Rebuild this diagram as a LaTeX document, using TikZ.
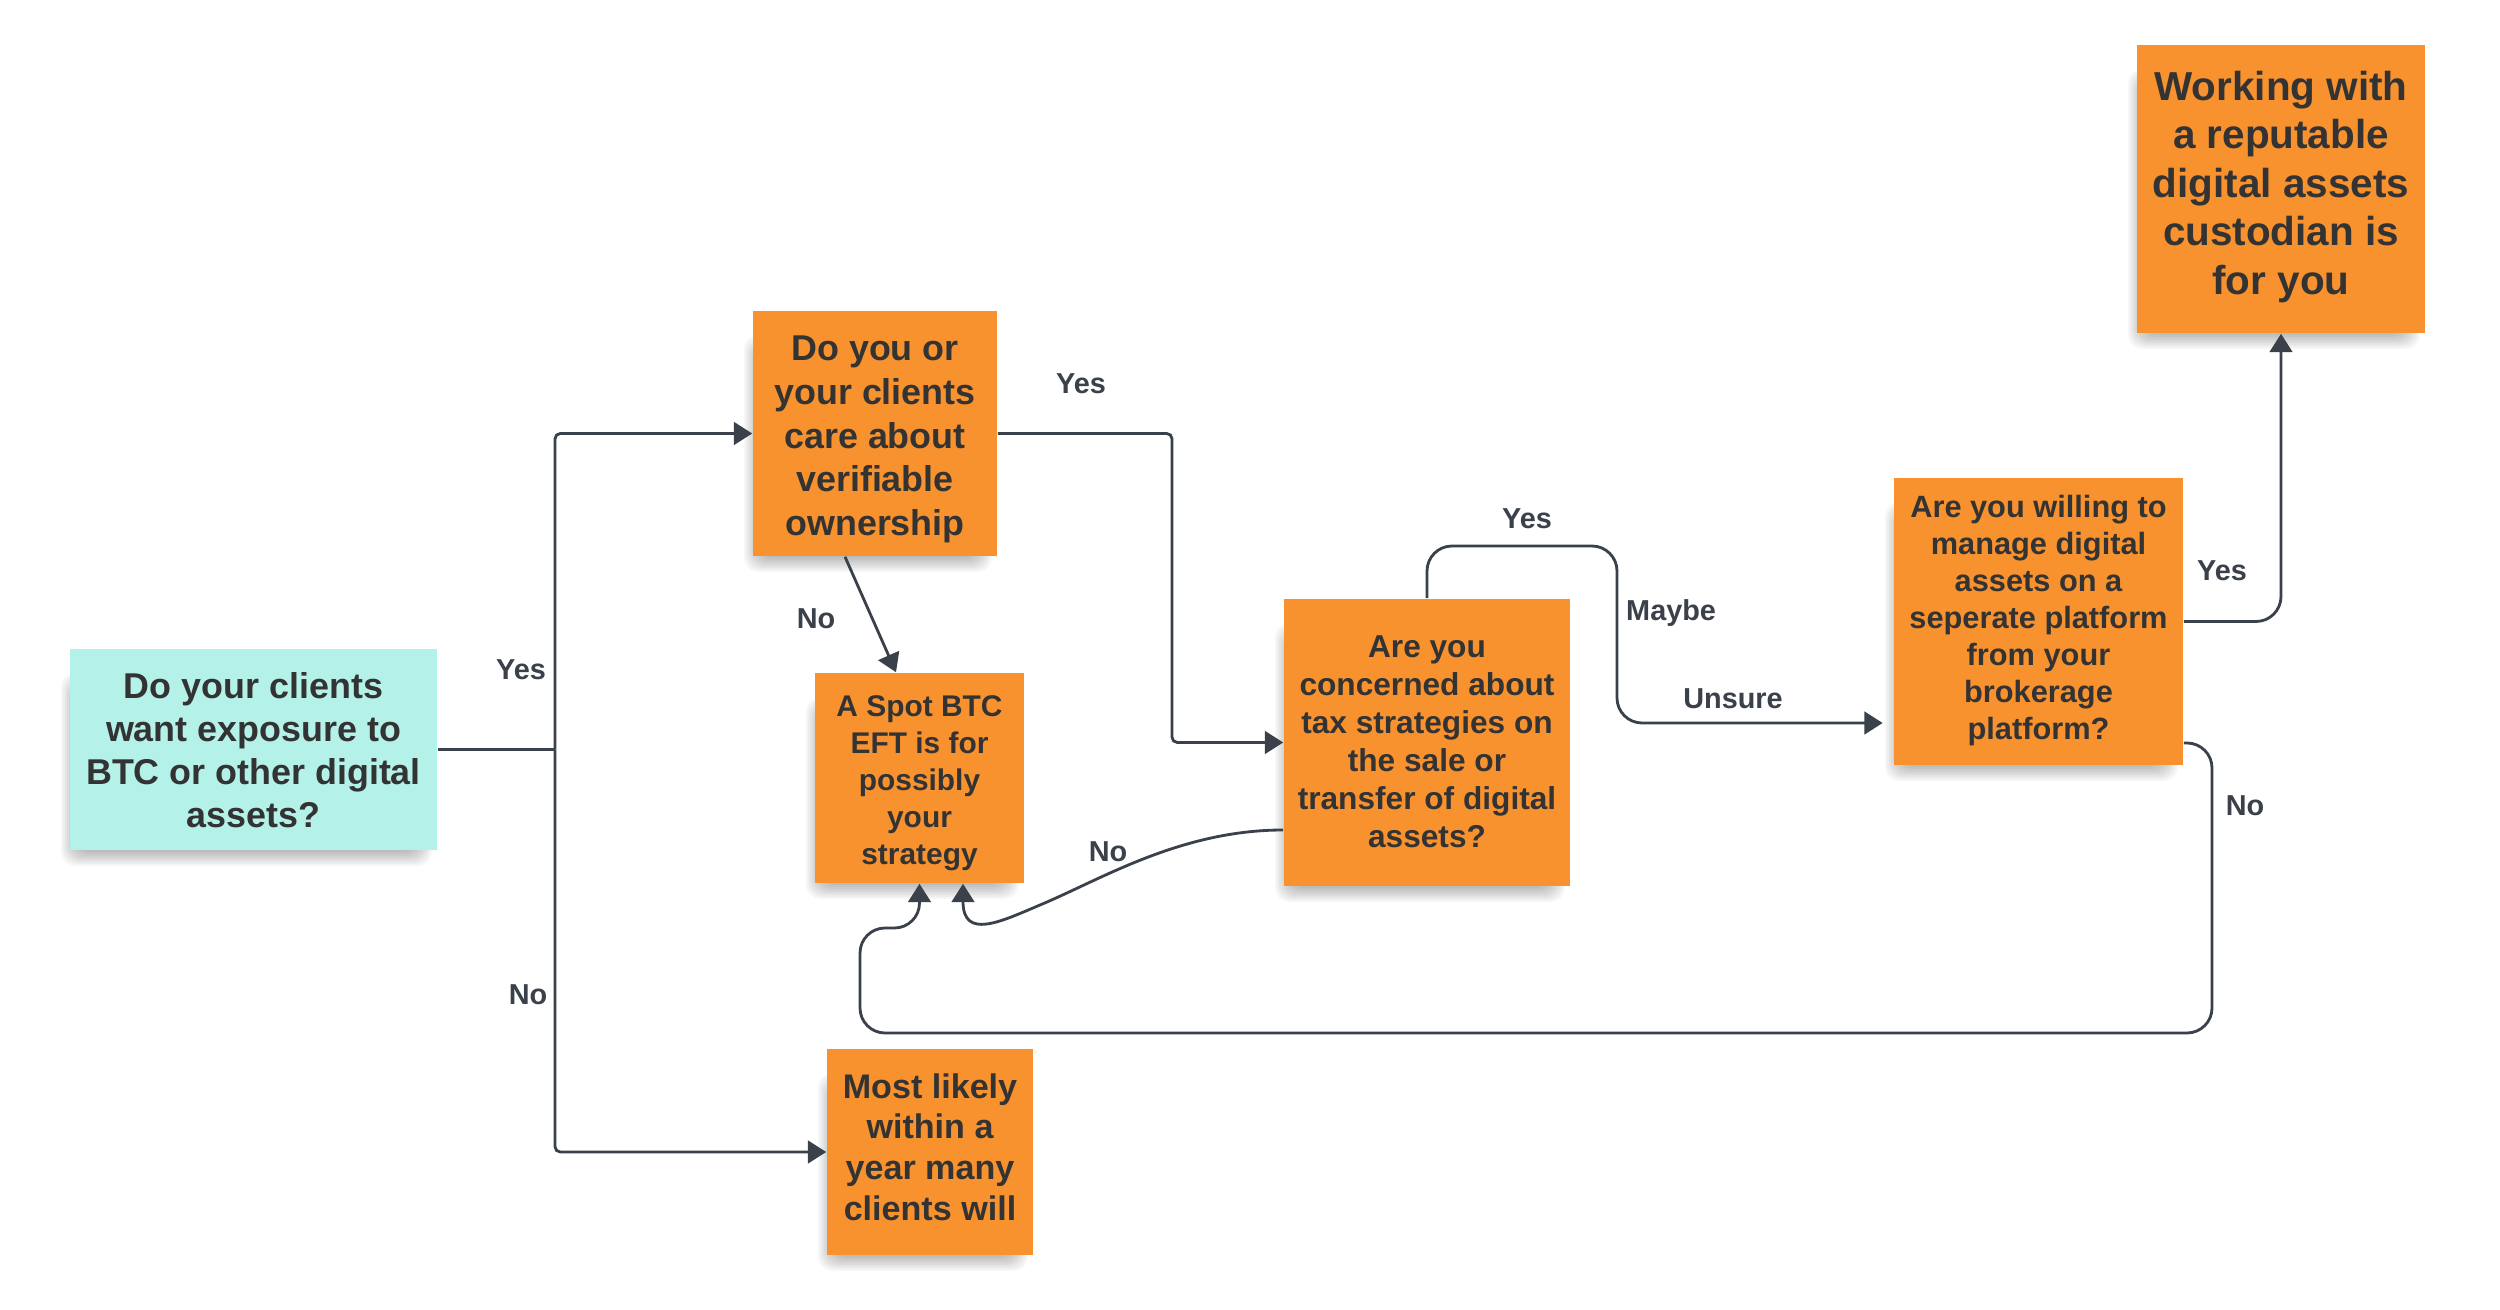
\documentclass[tikz,border=0pt]{standalone}
\usepackage{fontspec}
\setmainfont{Liberation Sans}
\usetikzlibrary{arrows.meta,calc}
\pgfdeclarelayer{back}
\pgfdeclarelayer{shad}
\pgfsetlayers{back,shad,main}
\definecolor{org}{HTML}{F8922F}
\definecolor{cyn}{HTML}{B4F2E9}
\definecolor{txt}{HTML}{333333}
\definecolor{ln}{HTML}{3A414A}
\tikzset{
  note/.style={draw=none, inner sep=0pt},
  notetext/.style={inner sep=0pt, align=center, text=txt},
  conn/.style={draw=ln, line width=0.8pt},
  arr/.style={conn, -{Triangle[length=5.2pt,width=6.4pt]}},
  lbl/.style={text=ln, font=\fontsize{8.2}{10}\selectfont\bfseries, inner sep=1pt}
}
\newcommand\noteshadow[1]{%
  \begin{pgfonlayer}{shad}
  \foreach \k in {0,...,7}{
    \fill[black, opacity=0.037, rounded corners=4pt]
      ($(#1.north west)+(-8+\k*2, 25+\k*2)$) rectangle ($(#1.south east)+(-6-\k*2, 15-\k*2)$);
  }
  \end{pgfonlayer}}
\begin{document}
\begin{tikzpicture}[x=0.01cm,y=-0.01cm]
\useasboundingbox (0,0) rectangle (2500,1310);
\begin{pgfonlayer}{back}
\fill[white] (0,0) rectangle (2500,1310);
\end{pgfonlayer}

% note shapes
\node[note, fill=cyn, minimum width=3.67cm, minimum height=2.01cm] (q1) at (253.5,749.5) {};
\node[note, fill=org, minimum width=2.44cm, minimum height=2.45cm] (q2) at (875,433.5) {};
\node[note, fill=org, minimum width=2.09cm, minimum height=2.10cm] (q3) at (919.5,778) {};
\node[note, fill=org, minimum width=2.86cm, minimum height=2.87cm] (q4) at (1427,742.5) {};
\node[note, fill=org, minimum width=2.89cm, minimum height=2.87cm] (q5) at (2038.5,621.5) {};
\node[note, fill=org, minimum width=2.88cm, minimum height=2.88cm] (q6) at (2281,189) {};
\node[note, fill=org, minimum width=2.06cm, minimum height=2.06cm] (q7) at (930,1152) {};
\noteshadow{q1}\noteshadow{q2}\noteshadow{q3}\noteshadow{q4}
\noteshadow{q5}\noteshadow{q6}\noteshadow{q7}

% note texts
\node[notetext, font=\fontsize{10.2}{12.2}\selectfont\bfseries] (q1t) at ($(q1.center)+(0,1)$)
  {Do your clients\\want exposure to\\BTC or other digital\\assets?};
\node[notetext, font=\fontsize{10.2}{12.4}\selectfont\bfseries] (q2t) at ($(q2.center)+(0,6)$)
  {Do you or\\your clients\\care about\\verifiable\\ownership};
\node[notetext, font=\fontsize{8.5}{10.5}\selectfont\bfseries] (q3t) at ($(q3.center)+(0,5)$)
  {A Spot BTC\\EFT is for\\possibly\\your\\strategy};
\node[notetext, font=\fontsize{9}{10.8}\selectfont\bfseries] (q4t) at ($(q4.center)+(0,-1)$)
  {Are you\\concerned about\\tax strategies on\\the sale or\\transfer of digital\\assets?};
\node[notetext, font=\fontsize{8.75}{10.5}\selectfont\bfseries] (q5t) at ($(q5.center)+(0,-1)$)
  {Are you willing to\\manage digital\\assets on a\\seperate platform\\from your\\brokerage\\platform?};
\node[notetext, font=\fontsize{11.5}{13.8}\selectfont\bfseries] (q6t) at ($(q6.center)+(0,-2)$)
  {Working with\\a reputable\\digital assets\\custodian is\\for you};
\node[notetext, font=\fontsize{9.7}{11.6}\selectfont\bfseries] (q7t) at ($(q7.center)+(0,-5)$)
  {Most likely\\within a\\year many\\clients will};

% junction from first question
\coordinate (j) at (555,749.5);
\draw[conn] (q1.east) -- (j);
\draw[arr, rounded corners=1.5pt] (j) |- (q2.west);
\draw[arr, rounded corners=1.5pt] (j) |- (q7.west);
\node[lbl] (l1) at (521,670) {Yes};
\node[lbl] (l2) at (528,995) {No};

% ownership -> tax
\coordinate (c2) at (1172,433.5);
\draw[arr, rounded corners=1.5pt] (q2.east) -- (c2) |- (q4.west);
\node[lbl] (l3) at (1081,384) {Yes};

% ownership -> spot
\draw[arr] ($(q2.south)+(-30,0)$) -- ($(q3.north)+(-23.5,0)$);
\node[lbl] (l4) at (816,619) {No};

% tax -> willing
\coordinate (t1) at (1617,546);
\draw[arr, rounded corners=0.25cm, shorten >=3pt] (q4.north) |- (t1) |- ($(q5.west)+(0,101.5)$);
\node[lbl] (l5) at (1527,519) {Yes};
\node[lbl, anchor=west] (l6) at (1622,613) {Maybe};
\node[lbl] (l7) at (1733,699) {Unsure};

% tax -> spot (No)
\draw[arr] ($(q4.west)+(0,87.5)$) .. controls (1180,830) and (1100,880) .. (1040,905)
  .. controls (1000,922) and (963,940) .. ($(q3.south)+(43.5,0)$);
\node[lbl] (l8) at (1108,852) {No};

% willing -> working (Yes)
\draw[arr, rounded corners=0.25cm] (q5.east) -| (q6.south);
\node[lbl] (l9) at (2222,571) {Yes};

% willing -> spot (No)
\coordinate (r1) at (2212,1033);
\coordinate (r2) at (860,928);
\draw[arr, rounded corners=0.25cm] ($(q5.east)+(0,121.5)$) -| (r1) -| (r2) -| (q3.south);
\node[lbl] (l10) at (2245,806) {No};
\end{tikzpicture}
\end{document}
